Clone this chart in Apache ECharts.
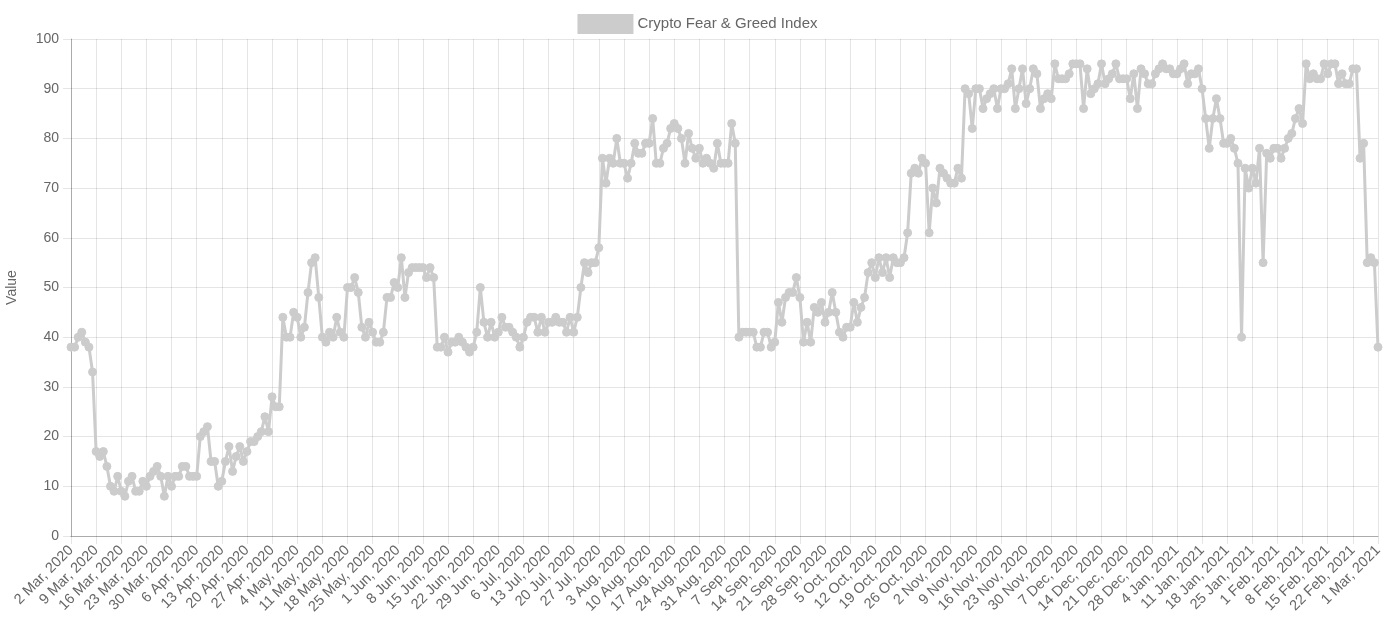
<!DOCTYPE html>
<html>
<head>
<meta charset="utf-8">
<script src="https://cdn.jsdelivr.net/npm/echarts@6/dist/echarts.min.js"></script>
<style>
html,body{margin:0;padding:0;background:#fff;}
#chart{width:1395px;height:620px;}
</style>
</head>
<body>
<div id="chart"></div>
<script>
// Daily dates from 2 Mar 2020 to 1 Mar 2021
const startDate = Date.UTC(2020, 2, 2);
const dayCount = 365;
const monthNames = ['Jan','Feb','Mar','Apr','May','Jun','Jul','Aug','Sep','Oct','Nov','Dec'];
const categories = [];
for (let i = 0; i < dayCount; i++) {
  const d = new Date(startDate + i * 86400000);
  categories.push(d.getUTCDate() + ' ' + monthNames[d.getUTCMonth()] + ', ' + d.getUTCFullYear());
}

const seriesName = 'Crypto Fear & Greed Index';
const values = [
  38,38,40,41,39,38,33,
  17,16,17,14,10,9,12,
  9,8,11,12,9,9,11,
  10,12,13,14,12,8,12,
  10,12,12,14,14,12,12,
  12,20,21,22,15,15,10,
  11,15,18,13,16,18,15,
  17,19,19,20,21,24,21,
  28,26,26,44,40,40,45,
  44,40,42,49,55,56,48,
  40,39,41,40,44,41,40,
  50,50,52,49,42,40,43,
  41,39,39,41,48,48,51,
  50,56,48,53,54,54,54,
  54,52,54,52,38,38,40,
  37,39,39,40,39,38,37,
  38,41,50,43,40,43,40,
  41,44,42,42,41,40,38,
  40,43,44,44,41,44,41,
  43,43,44,43,43,41,44,
  41,44,50,55,53,55,55,
  58,76,71,76,75,80,75,
  75,72,75,79,77,77,79,
  79,84,75,75,78,79,82,
  83,82,80,75,81,78,76,
  78,75,76,75,74,79,75,
  75,75,83,79,40,41,41,
  41,41,38,38,41,41,38,
  39,47,43,48,49,49,52,
  48,39,43,39,46,45,47,
  43,45,49,45,41,40,42,
  42,47,43,46,48,53,55,
  52,56,53,56,52,56,55,
  55,56,61,73,74,73,76,
  75,61,70,67,74,73,72,
  71,71,74,72,90,89,82,
  90,90,86,88,89,90,86,
  90,90,91,94,86,90,94,
  87,90,94,93,86,88,89,
  88,95,92,92,92,93,95,
  95,95,86,94,89,90,91,
  95,91,92,93,95,92,92,
  92,88,93,86,94,93,91,
  91,93,94,95,94,94,93,
  93,94,95,91,93,93,94,
  90,84,78,84,88,84,79,
  79,80,78,75,40,74,70,
  74,71,78,55,77,76,78,
  78,76,78,80,81,84,86,
  83,95,92,93,92,92,95,
  93,95,95,91,93,91,91,
  94,94,76,79,55,56,55,
  38
];

const yMin = 0, yMax = 100, yStep = 10;
const labelEvery = 7;

const chart = echarts.init(document.getElementById('chart'), null, {renderer: 'canvas'});
const font = 'Liberation Sans, Arial, Helvetica, sans-serif';
chart.setOption({
  animation: false,
  backgroundColor: '#ffffff',
  legend: {
    top: 9,
    left: 'center',
    icon: 'rect',
    itemWidth: 54,
    itemHeight: 18,
    itemGap: 10,
    textStyle: {color: '#666', fontSize: 15, fontFamily: font},
    data: [{name: seriesName, itemStyle: {color: 'rgba(204,204,204,1)'}}]
  },
  grid: {left: 71, right: 17, top: 39, bottom: 84, containLabel: false, outerBoundsMode: 'none'},
  xAxis: {
    type: 'category',
    data: categories,
    boundaryGap: false,
    axisLine: {show: true, lineStyle: {color: 'rgba(0,0,0,0.25)', width: 1}},
    axisTick: {show: true, length: 8, interval: labelEvery - 1, lineStyle: {color: 'rgba(0,0,0,0.1)'}},
    axisLabel: {
      interval: labelEvery - 1,
      rotate: 45,
      color: '#666',
      fontSize: 14.5,
      fontFamily: font,
      margin: 12
    },
    splitLine: {show: true, interval: labelEvery - 1, lineStyle: {color: 'rgba(0,0,0,0.1)', width: 1}}
  },
  yAxis: {
    type: 'value',
    min: yMin,
    max: yMax,
    interval: yStep,
    name: 'Value',
    nameLocation: 'middle',
    nameRotate: 90,
    nameGap: 52,
    nameTextStyle: {color: '#666', fontSize: 14, fontFamily: font},
    axisLine: {show: true, lineStyle: {color: 'rgba(0,0,0,0.25)', width: 1}},
    axisTick: {show: true, length: 8, lineStyle: {color: 'rgba(0,0,0,0.1)'}},
    axisLabel: {color: '#666', fontSize: 14, fontFamily: font, margin: 12},
    splitLine: {show: true, lineStyle: {color: 'rgba(0,0,0,0.1)', width: 1}}
  },
  series: [{
    name: seriesName,
    type: 'line',
    data: values,
    symbol: 'circle',
    symbolSize: 8,
    showAllSymbol: true,
    lineStyle: {color: 'rgba(204,204,204,1)', width: 3},
    itemStyle: {color: 'rgba(204,204,204,1)', borderColor: 'rgba(204,204,204,1)', borderWidth: 1},
    emphasis: {disabled: true}
  }]
});
</script>
</body>
</html>
